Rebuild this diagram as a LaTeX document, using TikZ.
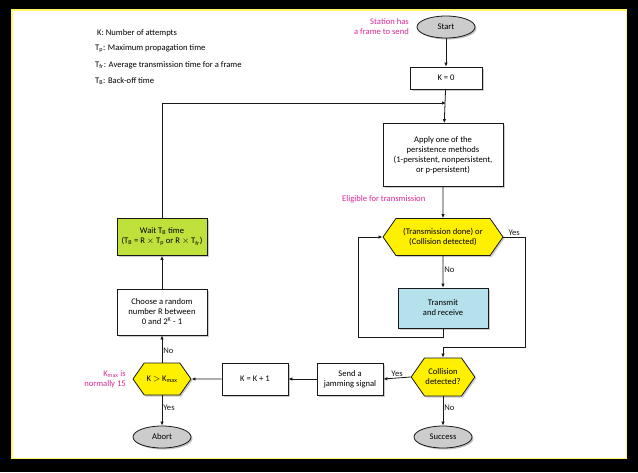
\documentclass[tikz,border=0pt]{standalone}
\usepackage{fontspec}
\setmainfont{Carlito}
\usetikzlibrary{shapes.geometric,shapes.symbols,shadows,arrows.meta}
\definecolor{mag}{RGB}{220,40,150}
\definecolor{hexy}{RGB}{255,240,0}
\definecolor{grn}{RGB}{190,225,60}
\definecolor{blu}{RGB}{180,225,235}
\begin{document}
\begin{tikzpicture}[x=1pt,y=-1pt,font=\fontsize{8.6}{10}\selectfont,
  box/.style={draw=black!90,thick,fill=white,align=center,inner sep=2pt,drop shadow={shadow xshift=1.5pt,shadow yshift=-1.5pt,fill=black!40}},
  hex/.style={shape=signal,signal to=east and west,signal pointer angle=110,draw=black!90,thick,fill=hexy,align=center,inner sep=1pt,drop shadow={shadow xshift=1.5pt,shadow yshift=-1.5pt,fill=black!40}},
  term/.style={ellipse,draw=black!90,thick,fill=black!20,minimum width=58pt,minimum height=22pt,inner sep=0pt,drop shadow={shadow xshift=1.5pt,shadow yshift=-1.5pt,fill=black!50}},
  lab/.style={font=\fontsize{8.6}{10}\selectfont,inner sep=1pt},
  mlab/.style={lab,text=mag,align=center},
  arr/.style={-{Latex[length=4pt,width=3.5pt]},thick,black!90},
  ln/.style={thick,black!90}]
\useasboundingbox (0,0) rectangle (638,472);
\fill[black] (0,0) rectangle (638,472);
\fill[yellow!60!white] (11,9) rectangle (627,459);
\fill[white] (12.5,10.5) rectangle (625.5,457.5);
% legend
\node[lab,anchor=west] (l1) at (96,33) {K: Number of attempts};
\node[lab,anchor=west] (l2) at (94,49) {T$_\mathrm{p}$: Maximum propagation time};
\node[lab,anchor=west] (l3) at (94,65) {T$_\mathrm{fr}$: Average transmission time for a frame};
\node[lab,anchor=west] (l4) at (94,81) {T$_\mathrm{B}$: Back-off time};
% nodes
\node[term] (start) at (446,27) {Start};
\node[mlab,align=right,anchor=east] (sta) at (410,27) {Station has\\a frame to send};
\node[box,minimum width=72pt,minimum height=22pt] (k0) at (446,78) {K = 0};
\coordinate (j1) at (446,103);
\node[box,minimum width=120pt,minimum height=63pt] (apply) at (443,155) {Apply one of the\\persistence methods\\(1-persistent, nonpersistent,\\or p-persistent)};
\node[mlab,anchor=west] (elig) at (341,199) {Eligible for transmission};
\node[hex,minimum width=120pt,minimum height=37pt] (h1) at (443,237) {(Transmission done) or\\(Collision detected)};
\node[box,fill=blu,minimum width=90pt,minimum height=40pt] (tx) at (443,308) {Transmit\\and receive};
\node[hex,minimum width=58pt,minimum height=38pt] (h2) at (443,377) {Collision\\detected?};
\node[term] (succ) at (443,437) {Success};
\node[box,minimum width=66pt,minimum height=32pt] (jam) at (350,379) {Send a\\jamming signal};
\node[box,minimum width=66pt,minimum height=32pt] (kk) at (255,379) {K = K + 1};
\node[hex,minimum width=58pt,minimum height=32pt] (h3) at (162,379) {K $>$ K$_\mathrm{max}$};
\node[mlab,align=right,anchor=east] (kml) at (127,379) {K$_\mathrm{max}$ is\\normally 15};
\node[term] (abort) at (162,437) {Abort};
\node[box,minimum width=90pt,minimum height=46pt] (rnd) at (162,312) {Choose a random\\number R between\\0 and 2$^\mathrm{K}$ - 1};
\node[box,fill=grn,minimum width=90pt,minimum height=37pt] (wait) at (162,237) {Wait T$_\mathrm{B}$ time\\(T$_\mathrm{B}$ = R $\times$ T$_\mathrm{p}$ or R $\times$ T$_\mathrm{fr}$)};
% connectors
\draw[arr] (start) -- (k0);
\draw[arr] (k0) -- (apply);
\draw[arr] (apply) -- (h1);
\draw[arr] (h1) -- node[lab,right,pos=0.45] {No} (tx);
\draw[arr] (tx.south) -- ++(0,9) -| (358,237) -- (h1.west);
\draw[arr] (h1.east) -- node[lab,above,pos=0.5] {Yes} (525,237) |- (443,347) -- (h2.north);
\draw[arr] (h2.west) -- node[lab,above] {Yes} (jam.east);
\draw[arr] (h2.south) -- node[lab,right,pos=0.4] {No} (succ);
\draw[arr] (jam) -- (kk);
\draw[arr] (kk) -- (h3);
\draw[arr] (h3.south) -- node[lab,right,pos=0.4] {Yes} (abort);
\draw[arr] (h3.north) -- node[lab,right,pos=0.45] {No} (rnd);
\draw[arr] (rnd) -- (wait);
\draw[arr] (wait.north) |- (j1);
\end{tikzpicture}
\end{document}
